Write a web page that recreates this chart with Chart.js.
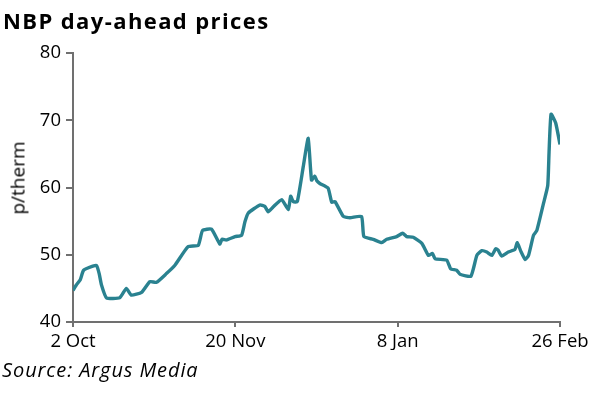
<!DOCTYPE html>
<html>
<head>
<meta charset="utf-8">
<script src="https://cdn.jsdelivr.net/npm/chart.js@4"></script>
<style>
  html, body { margin: 0; padding: 0; background: #fff; }
  #wrap { position: relative; width: 594px; height: 394px; overflow: hidden; }
  #title { position: absolute; left: 3px; top: 5px; font-family: "Open Sans", sans-serif; font-weight: 700; font-size: 22px; line-height: 30px; color: #000; letter-spacing: 1.4px; white-space: nowrap; }
  #source { position: absolute; left: 2px; top: 356px; font-family: "Open Sans", sans-serif; font-style: italic; font-size: 20px; line-height: 27px; color: #000; letter-spacing: 0.9px; white-space: nowrap; }
  #ytitle { position: absolute; left: 18px; top: 178px; transform: translate(-50%, -50%) rotate(-90deg); font-family: "Open Sans", sans-serif; font-size: 19px; line-height: 19px; color: #000; white-space: nowrap; }
  canvas { position: absolute; left: 0; top: 0; }
</style>
</head>
<body>
<div id="wrap">
  <canvas id="c" width="594" height="394"></canvas>
  <div id="title">NBP day-ahead prices</div>
  <div id="ytitle">p/therm</div>
  <div id="source">Source: Argus Media</div>
</div>
<script>
// Days since 2 Oct, and price in p/therm
const days = [0, 1.0, 2.2, 3.2, 6.0, 7.1, 7.9, 8.6, 10.1, 14.1, 16.1, 17.6, 20.7, 23.2, 25.2, 28.2, 30.7, 34.7, 37.8, 39.1, 41.8, 44.3, 45.0, 46.3, 48.9, 50.9, 51.9, 52.9, 56.4, 57.9, 58.9, 60.4, 63.0, 65.0, 65.7, 66.5, 67.7, 69.5, 71.0, 72.0, 73.0, 73.6, 74.5, 77.0, 78.1, 79.1, 81.6, 83.6, 87.1, 87.8, 90.6, 93.2, 94.7, 97.7, 99.5, 100.7, 102.7, 105.3, 107.3, 108.5, 109.3, 112.8, 114.0, 115.8, 116.8, 120.1, 121.9, 123.4, 124.9, 126.4, 127.6, 128.3, 129.4, 131.4, 133.4, 134.1, 135.2, 136.5, 137.5, 139.0, 140.0, 142.0, 143.3, 143.7, 144.3, 145.7, 147.0];
const prices = [44.7, 45.5, 46.3, 47.7, 48.3, 48.4, 47.2, 45.5, 43.6, 43.6, 45.0, 44.0, 44.4, 46.0, 45.9, 47.2, 48.4, 51.2, 51.4, 53.6, 53.8, 51.6, 52.3, 52.2, 52.7, 52.9, 54.9, 56.2, 57.4, 57.2, 56.4, 57.1, 58.2, 56.7, 58.7, 57.9, 57.9, 63.1, 67.3, 61.1, 61.7, 61.0, 60.6, 59.9, 57.8, 57.9, 55.7, 55.5, 55.7, 52.7, 52.3, 51.8, 52.3, 52.7, 53.2, 52.7, 52.6, 51.7, 49.9, 50.2, 49.4, 49.2, 47.9, 47.7, 47.1, 46.8, 49.9, 50.6, 50.4, 49.9, 50.9, 50.7, 49.8, 50.4, 50.8, 51.8, 50.5, 49.3, 49.9, 52.9, 53.6, 57.6, 60.3, 65.3, 70.9, 69.6, 66.4];
const tickDays = [0, 49, 98, 147];
const tickLabels = ["2 Oct", "20 Nov", "8 Jan", "26 Feb"];
const yTicks = [40, 50, 60, 70, 80];

const points = days.map((d, i) => ({ x: d, y: prices[i] }));
const axisColor = "#707070";
const font = { family: "'Open Sans', sans-serif", size: 18.5 };

new Chart(document.getElementById("c"), {
  type: "line",
  data: {
    datasets: [{
      data: points,
      borderColor: "#2a8290",
      borderWidth: 3.4,
      pointRadius: 0,
      tension: 0.15,
      fill: false
    }]
  },
  options: {
    responsive: false,
    animation: false,
    devicePixelRatio: 1,
    layout: { padding: { left: 0, right: 34, top: 53, bottom: 44 } },
    plugins: { legend: { display: false }, tooltip: { enabled: false }, title: { display: false } },
    scales: {
      x: {
        type: "linear",
        min: 0, max: 147,
        afterBuildTicks: (s) => { s.ticks = tickDays.map(v => ({ value: v })); },
        afterFit: (s) => { s.height = 28; },
        ticks: {
          autoSkip: false, maxRotation: 0, color: "#000", font: font, padding: 4,
          callback: (v) => { const i = tickDays.indexOf(v); return i >= 0 ? tickLabels[i] : ""; }
        },
        grid: { display: true, drawOnChartArea: false, drawTicks: true, tickLength: 5, color: axisColor, lineWidth: 2 },
        border: { display: true, color: axisColor, width: 2 }
      },
      y: {
        min: 40, max: 80,
        afterBuildTicks: (s) => { s.ticks = yTicks.map(v => ({ value: v })); },
        afterFit: (s) => { s.width = 73; },
        ticks: { color: "#000", font: font, padding: 5 },
        grid: { display: true, drawOnChartArea: false, drawTicks: true, tickLength: 7, color: axisColor, lineWidth: 2 },
        border: { display: true, color: axisColor, width: 2 },
        title: { display: false }
      }
    }
  }
});
</script>
</body>
</html>
